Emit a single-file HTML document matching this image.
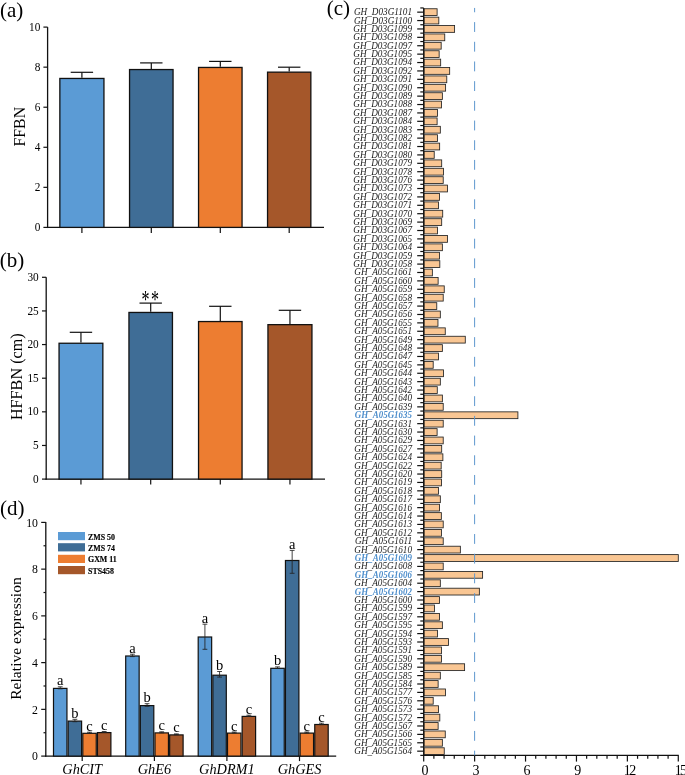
<!DOCTYPE html>
<html><head><meta charset="utf-8"><title>Figure</title>
<style>
html,body{margin:0;padding:0;background:#fff;}
body{width:685px;height:775px;overflow:hidden;}
svg{display:block;}
</style></head><body>
<svg width="685" height="775" viewBox="0 0 685 775">
<rect width="685" height="775" fill="#fff"/>
<g font-family="Liberation Serif, serif" fill="#000">
<text x="0.05" y="17.1" font-size="21" text-anchor="start" >(a)</text>
<line x1="47.6" y1="27.1" x2="47.6" y2="228.05" stroke="#111" stroke-width="1.3" />
<line x1="46.95" y1="227.4" x2="324" y2="227.4" stroke="#111" stroke-width="1.3" />
<line x1="43.4" y1="227.4" x2="47.6" y2="227.4" stroke="#111" stroke-width="1.2" />
<text transform="translate(40.4,231.06) scale(1,1.1)" font-size="11.3" text-anchor="end">0</text>
<line x1="43.4" y1="187.34" x2="47.6" y2="187.34" stroke="#111" stroke-width="1.2" />
<text transform="translate(40.4,191) scale(1,1.1)" font-size="11.3" text-anchor="end">2</text>
<line x1="43.4" y1="147.28" x2="47.6" y2="147.28" stroke="#111" stroke-width="1.2" />
<text transform="translate(40.4,150.94) scale(1,1.1)" font-size="11.3" text-anchor="end">4</text>
<line x1="43.4" y1="107.22" x2="47.6" y2="107.22" stroke="#111" stroke-width="1.2" />
<text transform="translate(40.4,110.88) scale(1,1.1)" font-size="11.3" text-anchor="end">6</text>
<line x1="43.4" y1="67.16" x2="47.6" y2="67.16" stroke="#111" stroke-width="1.2" />
<text transform="translate(40.4,70.82) scale(1,1.1)" font-size="11.3" text-anchor="end">8</text>
<line x1="43.4" y1="27.1" x2="47.6" y2="27.1" stroke="#111" stroke-width="1.2" />
<text transform="translate(40.4,30.76) scale(1,1.1)" font-size="11.3" text-anchor="end">10</text>
<rect x="59.85" y="78.45" width="44.1" height="148.95" fill="#5B9BD5" stroke="#111" stroke-width="1.3"/>
<line x1="81.9" y1="72.3" x2="81.9" y2="77.8" stroke="#111" stroke-width="1.2" />
<line x1="70.7" y1="72.3" x2="93.1" y2="72.3" stroke="#111" stroke-width="1.2" />
<line x1="81.9" y1="227.4" x2="81.9" y2="232.9" stroke="#111" stroke-width="1.2" />
<rect x="129.55" y="69.55" width="43.5" height="157.85" fill="#3F6D96" stroke="#111" stroke-width="1.3"/>
<line x1="151.3" y1="62.9" x2="151.3" y2="68.9" stroke="#111" stroke-width="1.2" />
<line x1="140.1" y1="62.9" x2="162.5" y2="62.9" stroke="#111" stroke-width="1.2" />
<line x1="151.3" y1="227.4" x2="151.3" y2="232.9" stroke="#111" stroke-width="1.2" />
<rect x="198.55" y="67.45" width="43.5" height="159.95" fill="#ED7D31" stroke="#111" stroke-width="1.3"/>
<line x1="220.3" y1="61.4" x2="220.3" y2="66.8" stroke="#111" stroke-width="1.2" />
<line x1="209.1" y1="61.4" x2="231.5" y2="61.4" stroke="#111" stroke-width="1.2" />
<line x1="220.3" y1="227.4" x2="220.3" y2="232.9" stroke="#111" stroke-width="1.2" />
<rect x="267.55" y="72.15" width="43.3" height="155.25" fill="#A5572A" stroke="#111" stroke-width="1.3"/>
<line x1="289.2" y1="67.2" x2="289.2" y2="71.5" stroke="#111" stroke-width="1.2" />
<line x1="278" y1="67.2" x2="300.4" y2="67.2" stroke="#111" stroke-width="1.2" />
<line x1="289.2" y1="227.4" x2="289.2" y2="232.9" stroke="#111" stroke-width="1.2" />
<text transform="translate(24.8,126.7) rotate(-90)" font-size="15.8" text-anchor="middle">FFBN</text>
<text x="-0.2" y="267.2" font-size="21" text-anchor="start" >(b)</text>
<line x1="46.2" y1="277.29" x2="46.2" y2="479.75" stroke="#111" stroke-width="1.3" />
<line x1="45.55" y1="479.1" x2="325" y2="479.1" stroke="#111" stroke-width="1.3" />
<line x1="42" y1="479.1" x2="46.2" y2="479.1" stroke="#111" stroke-width="1.2" />
<text transform="translate(38.7,482.76) scale(1,1.1)" font-size="11.3" text-anchor="end">0</text>
<line x1="42" y1="445.47" x2="46.2" y2="445.47" stroke="#111" stroke-width="1.2" />
<text transform="translate(38.7,449.13) scale(1,1.1)" font-size="11.3" text-anchor="end">5</text>
<line x1="42" y1="411.83" x2="46.2" y2="411.83" stroke="#111" stroke-width="1.2" />
<text transform="translate(38.7,415.49) scale(1,1.1)" font-size="11.3" text-anchor="end">10</text>
<line x1="42" y1="378.2" x2="46.2" y2="378.2" stroke="#111" stroke-width="1.2" />
<text transform="translate(38.7,381.86) scale(1,1.1)" font-size="11.3" text-anchor="end">15</text>
<line x1="42" y1="344.56" x2="46.2" y2="344.56" stroke="#111" stroke-width="1.2" />
<text transform="translate(38.7,348.22) scale(1,1.1)" font-size="11.3" text-anchor="end">20</text>
<line x1="42" y1="310.93" x2="46.2" y2="310.93" stroke="#111" stroke-width="1.2" />
<text transform="translate(38.7,314.59) scale(1,1.1)" font-size="11.3" text-anchor="end">25</text>
<line x1="42" y1="277.29" x2="46.2" y2="277.29" stroke="#111" stroke-width="1.2" />
<text transform="translate(38.7,280.95) scale(1,1.1)" font-size="11.3" text-anchor="end">30</text>
<rect x="59.05" y="343.25" width="43.8" height="135.85" fill="#5B9BD5" stroke="#111" stroke-width="1.3"/>
<line x1="80.95" y1="332.3" x2="80.95" y2="342.6" stroke="#111" stroke-width="1.2" />
<line x1="69.75" y1="332.3" x2="92.15" y2="332.3" stroke="#111" stroke-width="1.2" />
<line x1="80.95" y1="479.1" x2="80.95" y2="484.6" stroke="#111" stroke-width="1.2" />
<rect x="128.95" y="312.45" width="43.5" height="166.65" fill="#3F6D96" stroke="#111" stroke-width="1.3"/>
<line x1="150.7" y1="303.1" x2="150.7" y2="311.8" stroke="#111" stroke-width="1.2" />
<line x1="139.5" y1="303.1" x2="161.9" y2="303.1" stroke="#111" stroke-width="1.2" />
<line x1="150.7" y1="479.1" x2="150.7" y2="484.6" stroke="#111" stroke-width="1.2" />
<rect x="198.55" y="321.55" width="43.5" height="157.55" fill="#ED7D31" stroke="#111" stroke-width="1.3"/>
<line x1="220.3" y1="306.3" x2="220.3" y2="320.9" stroke="#111" stroke-width="1.2" />
<line x1="209.1" y1="306.3" x2="231.5" y2="306.3" stroke="#111" stroke-width="1.2" />
<line x1="220.3" y1="479.1" x2="220.3" y2="484.6" stroke="#111" stroke-width="1.2" />
<rect x="267.95" y="324.65" width="44" height="154.45" fill="#A5572A" stroke="#111" stroke-width="1.3"/>
<line x1="289.95" y1="310.3" x2="289.95" y2="324" stroke="#111" stroke-width="1.2" />
<line x1="278.75" y1="310.3" x2="301.15" y2="310.3" stroke="#111" stroke-width="1.2" />
<line x1="289.95" y1="479.1" x2="289.95" y2="484.6" stroke="#111" stroke-width="1.2" />
<text transform="translate(141.5,307.5) scale(1,1.61)" font-size="16" letter-spacing="1.6" font-family="Liberation Serif, serif">**</text>
<text transform="translate(22.2,376.7) rotate(-90)" font-size="16.2" text-anchor="middle">HFFBN (cm)</text>
<text x="0" y="514.9" font-size="21" text-anchor="start" >(d)</text>
<line x1="45.8" y1="522.1" x2="45.8" y2="756.75" stroke="#111" stroke-width="1.3" />
<line x1="45.15" y1="756.1" x2="336.2" y2="756.1" stroke="#111" stroke-width="1.3" />
<line x1="41.2" y1="756.1" x2="45.8" y2="756.1" stroke="#111" stroke-width="1.2" />
<text transform="translate(38,760.4) scale(1,1.1)" font-size="11.8" text-anchor="end">0</text>
<line x1="43.5" y1="732.73" x2="45.8" y2="732.73" stroke="#111" stroke-width="1.2" />
<line x1="41.2" y1="709.36" x2="45.8" y2="709.36" stroke="#111" stroke-width="1.2" />
<text transform="translate(38,713.66) scale(1,1.1)" font-size="11.8" text-anchor="end">2</text>
<line x1="43.5" y1="685.99" x2="45.8" y2="685.99" stroke="#111" stroke-width="1.2" />
<line x1="41.2" y1="662.62" x2="45.8" y2="662.62" stroke="#111" stroke-width="1.2" />
<text transform="translate(38,666.92) scale(1,1.1)" font-size="11.8" text-anchor="end">4</text>
<line x1="43.5" y1="639.25" x2="45.8" y2="639.25" stroke="#111" stroke-width="1.2" />
<line x1="41.2" y1="615.88" x2="45.8" y2="615.88" stroke="#111" stroke-width="1.2" />
<text transform="translate(38,620.18) scale(1,1.1)" font-size="11.8" text-anchor="end">6</text>
<line x1="43.5" y1="592.51" x2="45.8" y2="592.51" stroke="#111" stroke-width="1.2" />
<line x1="41.2" y1="569.14" x2="45.8" y2="569.14" stroke="#111" stroke-width="1.2" />
<text transform="translate(38,573.44) scale(1,1.1)" font-size="11.8" text-anchor="end">8</text>
<line x1="43.5" y1="545.77" x2="45.8" y2="545.77" stroke="#111" stroke-width="1.2" />
<line x1="41.2" y1="522.4" x2="45.8" y2="522.4" stroke="#111" stroke-width="1.2" />
<text transform="translate(38,526.7) scale(1,1.1)" font-size="11.8" text-anchor="end">10</text>
<rect x="53.5" y="688.4" width="13.45" height="67.7" fill="#5B9BD5" stroke="#111" stroke-width="1.2"/>
<rect x="68.15" y="721.1" width="13.45" height="35" fill="#3F6D96" stroke="#111" stroke-width="1.2"/>
<rect x="82.8" y="733.3" width="13.45" height="22.8" fill="#ED7D31" stroke="#111" stroke-width="1.2"/>
<rect x="97.45" y="732.6" width="13.45" height="23.5" fill="#A5572A" stroke="#111" stroke-width="1.2"/>
<line x1="60.23" y1="686.8" x2="60.23" y2="688.8" stroke="#222" stroke-width="0.85" />
<line x1="57.83" y1="686.8" x2="62.62" y2="686.8" stroke="#222" stroke-width="0.85" />
<line x1="57.83" y1="688.8" x2="62.62" y2="688.8" stroke="#222" stroke-width="0.85" />
<text x="60.23" y="685.3" font-size="14.5" text-anchor="middle" >a</text>
<line x1="74.88" y1="719.3" x2="74.88" y2="721.7" stroke="#222" stroke-width="0.85" />
<line x1="72.47" y1="719.3" x2="77.28" y2="719.3" stroke="#222" stroke-width="0.85" />
<line x1="72.47" y1="721.7" x2="77.28" y2="721.7" stroke="#222" stroke-width="0.85" />
<text x="74.88" y="717.8" font-size="14.5" text-anchor="middle" >b</text>
<line x1="89.53" y1="732.2" x2="89.53" y2="733.2" stroke="#222" stroke-width="0.85" />
<line x1="87.12" y1="732.2" x2="91.93" y2="732.2" stroke="#222" stroke-width="0.85" />
<line x1="87.12" y1="733.2" x2="91.93" y2="733.2" stroke="#222" stroke-width="0.85" />
<text x="89.53" y="730.7" font-size="14.5" text-anchor="middle" >c</text>
<line x1="104.17" y1="731.5" x2="104.17" y2="732.5" stroke="#222" stroke-width="0.85" />
<line x1="101.77" y1="731.5" x2="106.58" y2="731.5" stroke="#222" stroke-width="0.85" />
<line x1="101.77" y1="732.5" x2="106.58" y2="732.5" stroke="#222" stroke-width="0.85" />
<text x="104.17" y="730" font-size="14.5" text-anchor="middle" >c</text>
<line x1="82.2" y1="756.1" x2="82.2" y2="761.1" stroke="#111" stroke-width="1.2" />
<text x="82.2" y="774" font-size="14.3" text-anchor="middle" font-style="italic">GhCIT</text>
<rect x="125.7" y="656" width="13.45" height="100.1" fill="#5B9BD5" stroke="#111" stroke-width="1.2"/>
<rect x="140.35" y="705.6" width="13.45" height="50.5" fill="#3F6D96" stroke="#111" stroke-width="1.2"/>
<rect x="155" y="732.9" width="13.45" height="23.2" fill="#ED7D31" stroke="#111" stroke-width="1.2"/>
<rect x="169.65" y="734.9" width="13.45" height="21.2" fill="#A5572A" stroke="#111" stroke-width="1.2"/>
<line x1="132.42" y1="654.2" x2="132.42" y2="656.6" stroke="#222" stroke-width="0.85" />
<line x1="130.02" y1="654.2" x2="134.82" y2="654.2" stroke="#222" stroke-width="0.85" />
<line x1="130.02" y1="656.6" x2="134.82" y2="656.6" stroke="#222" stroke-width="0.85" />
<text x="132.42" y="652.7" font-size="14.5" text-anchor="middle" >a</text>
<line x1="147.07" y1="703.7" x2="147.07" y2="706.3" stroke="#222" stroke-width="0.85" />
<line x1="144.67" y1="703.7" x2="149.47" y2="703.7" stroke="#222" stroke-width="0.85" />
<line x1="144.67" y1="706.3" x2="149.47" y2="706.3" stroke="#222" stroke-width="0.85" />
<text x="147.07" y="702.2" font-size="14.5" text-anchor="middle" >b</text>
<line x1="161.72" y1="731.8" x2="161.72" y2="732.8" stroke="#222" stroke-width="0.85" />
<line x1="159.32" y1="731.8" x2="164.12" y2="731.8" stroke="#222" stroke-width="0.85" />
<line x1="159.32" y1="732.8" x2="164.12" y2="732.8" stroke="#222" stroke-width="0.85" />
<text x="161.72" y="730.3" font-size="14.5" text-anchor="middle" >c</text>
<line x1="176.38" y1="733.9" x2="176.38" y2="734.7" stroke="#222" stroke-width="0.85" />
<line x1="173.97" y1="733.9" x2="178.78" y2="733.9" stroke="#222" stroke-width="0.85" />
<line x1="173.97" y1="734.7" x2="178.78" y2="734.7" stroke="#222" stroke-width="0.85" />
<text x="176.38" y="732.4" font-size="14.5" text-anchor="middle" >c</text>
<line x1="154.4" y1="756.1" x2="154.4" y2="761.1" stroke="#111" stroke-width="1.2" />
<text x="154.4" y="774" font-size="14.3" text-anchor="middle" font-style="italic">GhE6</text>
<rect x="198.2" y="637" width="13.45" height="119.1" fill="#5B9BD5" stroke="#111" stroke-width="1.2"/>
<rect x="212.85" y="675.2" width="13.45" height="80.9" fill="#3F6D96" stroke="#111" stroke-width="1.2"/>
<rect x="227.5" y="733.1" width="13.45" height="23" fill="#ED7D31" stroke="#111" stroke-width="1.2"/>
<rect x="242.15" y="716.4" width="13.45" height="39.7" fill="#A5572A" stroke="#111" stroke-width="1.2"/>
<line x1="204.92" y1="624.2" x2="204.92" y2="649.3" stroke="#222" stroke-width="0.85" />
<line x1="202.52" y1="624.2" x2="207.32" y2="624.2" stroke="#222" stroke-width="0.85" />
<line x1="202.52" y1="649.3" x2="207.32" y2="649.3" stroke="#222" stroke-width="0.85" />
<text x="204.92" y="622.7" font-size="14.5" text-anchor="middle" >a</text>
<line x1="219.57" y1="671.5" x2="219.57" y2="677.1" stroke="#222" stroke-width="0.85" />
<line x1="217.17" y1="671.5" x2="221.97" y2="671.5" stroke="#222" stroke-width="0.85" />
<line x1="217.17" y1="677.1" x2="221.97" y2="677.1" stroke="#222" stroke-width="0.85" />
<text x="219.57" y="670" font-size="14.5" text-anchor="middle" >b</text>
<line x1="234.22" y1="732" x2="234.22" y2="733" stroke="#222" stroke-width="0.85" />
<line x1="231.82" y1="732" x2="236.62" y2="732" stroke="#222" stroke-width="0.85" />
<line x1="231.82" y1="733" x2="236.62" y2="733" stroke="#222" stroke-width="0.85" />
<text x="234.22" y="730.5" font-size="14.5" text-anchor="middle" >c</text>
<line x1="248.88" y1="715.2" x2="248.88" y2="716.4" stroke="#222" stroke-width="0.85" />
<line x1="246.47" y1="715.2" x2="251.28" y2="715.2" stroke="#222" stroke-width="0.85" />
<line x1="246.47" y1="716.4" x2="251.28" y2="716.4" stroke="#222" stroke-width="0.85" />
<text x="248.88" y="713.7" font-size="14.5" text-anchor="middle" >c</text>
<line x1="226.9" y1="756.1" x2="226.9" y2="761.1" stroke="#111" stroke-width="1.2" />
<text x="226.9" y="774" font-size="14.3" text-anchor="middle" font-style="italic">GhDRM1</text>
<rect x="270.8" y="668.3" width="13.45" height="87.8" fill="#5B9BD5" stroke="#111" stroke-width="1.2"/>
<rect x="285.45" y="560.5" width="13.45" height="195.6" fill="#3F6D96" stroke="#111" stroke-width="1.2"/>
<rect x="300.1" y="733.1" width="13.45" height="23" fill="#ED7D31" stroke="#111" stroke-width="1.2"/>
<rect x="314.75" y="724.5" width="13.45" height="31.6" fill="#A5572A" stroke="#111" stroke-width="1.2"/>
<line x1="277.52" y1="666.9" x2="277.52" y2="668.5" stroke="#222" stroke-width="0.85" />
<line x1="275.12" y1="666.9" x2="279.92" y2="666.9" stroke="#222" stroke-width="0.85" />
<line x1="275.12" y1="668.5" x2="279.92" y2="668.5" stroke="#222" stroke-width="0.85" />
<text x="277.52" y="665.4" font-size="14.5" text-anchor="middle" >b</text>
<line x1="292.17" y1="550.4" x2="292.17" y2="573.3" stroke="#222" stroke-width="0.85" />
<line x1="289.77" y1="550.4" x2="294.57" y2="550.4" stroke="#222" stroke-width="0.85" />
<line x1="289.77" y1="573.3" x2="294.57" y2="573.3" stroke="#222" stroke-width="0.85" />
<text x="292.17" y="548.9" font-size="14.5" text-anchor="middle" >a</text>
<line x1="306.82" y1="732" x2="306.82" y2="733" stroke="#222" stroke-width="0.85" />
<line x1="304.43" y1="732" x2="309.22" y2="732" stroke="#222" stroke-width="0.85" />
<line x1="304.43" y1="733" x2="309.22" y2="733" stroke="#222" stroke-width="0.85" />
<text x="306.82" y="730.5" font-size="14.5" text-anchor="middle" >c</text>
<line x1="321.47" y1="723.2" x2="321.47" y2="724.6" stroke="#222" stroke-width="0.85" />
<line x1="319.07" y1="723.2" x2="323.87" y2="723.2" stroke="#222" stroke-width="0.85" />
<line x1="319.07" y1="724.6" x2="323.87" y2="724.6" stroke="#222" stroke-width="0.85" />
<text x="321.47" y="721.7" font-size="14.5" text-anchor="middle" >c</text>
<line x1="299.5" y1="756.1" x2="299.5" y2="761.1" stroke="#111" stroke-width="1.2" />
<text x="299.5" y="774" font-size="14.3" text-anchor="middle" font-style="italic">GhGES</text>
<text transform="translate(21.2,638.5) rotate(-90)" font-size="15.6" text-anchor="middle">Relative expression</text>
<rect x="58" y="532" width="27" height="8.2" fill="#5B9BD5"/>
<text x="88" y="539.6" font-size="7.9" text-anchor="start" font-weight="bold" stroke="#000" stroke-width="0.15">ZMS 50</text>
<rect x="58" y="543.2" width="27" height="8.2" fill="#3F6D96"/>
<text x="88" y="550.8" font-size="7.9" text-anchor="start" font-weight="bold" stroke="#000" stroke-width="0.15">ZMS 74</text>
<rect x="58" y="554.8" width="27" height="8.2" fill="#ED7D31"/>
<text x="88" y="562.4" font-size="7.9" text-anchor="start" font-weight="bold" stroke="#000" stroke-width="0.15">GXM 11</text>
<rect x="58" y="566" width="27" height="8.2" fill="#A5572A"/>
<text x="88" y="573.6" font-size="7.9" text-anchor="start" font-weight="bold" stroke="#000" stroke-width="0.15">STS458</text>
</g>
<g font-family="Liberation Serif, serif" fill="#000">
<text x="326.8" y="15" font-size="21" text-anchor="start" >(c)</text>
<rect x="424" y="8.75" width="13.11" height="6.8" fill="#F9C693" stroke="#222" stroke-width="0.85"/>
<rect x="424" y="17.15" width="14.81" height="6.8" fill="#F9C693" stroke="#222" stroke-width="0.85"/>
<rect x="424" y="25.55" width="30.59" height="6.8" fill="#F9C693" stroke="#222" stroke-width="0.85"/>
<rect x="424" y="33.94" width="20.75" height="6.8" fill="#F9C693" stroke="#222" stroke-width="0.85"/>
<rect x="424" y="42.34" width="17.18" height="6.8" fill="#F9C693" stroke="#222" stroke-width="0.85"/>
<rect x="424" y="50.74" width="15.15" height="6.8" fill="#F9C693" stroke="#222" stroke-width="0.85"/>
<rect x="424" y="59.14" width="16.67" height="6.8" fill="#F9C693" stroke="#222" stroke-width="0.85"/>
<rect x="424" y="67.54" width="25.67" height="6.8" fill="#F9C693" stroke="#222" stroke-width="0.85"/>
<rect x="424" y="75.93" width="22.78" height="6.8" fill="#F9C693" stroke="#222" stroke-width="0.85"/>
<rect x="424" y="84.33" width="21.6" height="6.8" fill="#F9C693" stroke="#222" stroke-width="0.85"/>
<rect x="424" y="92.73" width="18.37" height="6.8" fill="#F9C693" stroke="#222" stroke-width="0.85"/>
<rect x="424" y="101.13" width="17.52" height="6.8" fill="#F9C693" stroke="#222" stroke-width="0.85"/>
<rect x="424" y="109.53" width="13.45" height="6.8" fill="#F9C693" stroke="#222" stroke-width="0.85"/>
<rect x="424" y="117.92" width="13.11" height="6.8" fill="#F9C693" stroke="#222" stroke-width="0.85"/>
<rect x="424" y="126.32" width="16.33" height="6.8" fill="#F9C693" stroke="#222" stroke-width="0.85"/>
<rect x="424" y="134.72" width="13.45" height="6.8" fill="#F9C693" stroke="#222" stroke-width="0.85"/>
<rect x="424" y="143.12" width="15.65" height="6.8" fill="#F9C693" stroke="#222" stroke-width="0.85"/>
<rect x="424" y="151.52" width="10.22" height="6.8" fill="#F9C693" stroke="#222" stroke-width="0.85"/>
<rect x="424" y="159.91" width="17.69" height="6.8" fill="#F9C693" stroke="#222" stroke-width="0.85"/>
<rect x="424" y="168.31" width="19.56" height="6.8" fill="#F9C693" stroke="#222" stroke-width="0.85"/>
<rect x="424" y="176.71" width="19.22" height="6.8" fill="#F9C693" stroke="#222" stroke-width="0.85"/>
<rect x="424" y="185.11" width="23.46" height="6.8" fill="#F9C693" stroke="#222" stroke-width="0.85"/>
<rect x="424" y="193.51" width="15.48" height="6.8" fill="#F9C693" stroke="#222" stroke-width="0.85"/>
<rect x="424" y="201.9" width="14.47" height="6.8" fill="#F9C693" stroke="#222" stroke-width="0.85"/>
<rect x="424" y="210.3" width="18.71" height="6.8" fill="#F9C693" stroke="#222" stroke-width="0.85"/>
<rect x="424" y="218.7" width="17.69" height="6.8" fill="#F9C693" stroke="#222" stroke-width="0.85"/>
<rect x="424" y="227.1" width="13.45" height="6.8" fill="#F9C693" stroke="#222" stroke-width="0.85"/>
<rect x="424" y="235.5" width="23.46" height="6.8" fill="#F9C693" stroke="#222" stroke-width="0.85"/>
<rect x="424" y="243.89" width="18.37" height="6.8" fill="#F9C693" stroke="#222" stroke-width="0.85"/>
<rect x="424" y="252.29" width="15.48" height="6.8" fill="#F9C693" stroke="#222" stroke-width="0.85"/>
<rect x="424" y="260.69" width="15.82" height="6.8" fill="#F9C693" stroke="#222" stroke-width="0.85"/>
<rect x="424" y="269.09" width="8.36" height="6.8" fill="#F9C693" stroke="#222" stroke-width="0.85"/>
<rect x="424" y="277.49" width="14.13" height="6.8" fill="#F9C693" stroke="#222" stroke-width="0.85"/>
<rect x="424" y="285.88" width="20.24" height="6.8" fill="#F9C693" stroke="#222" stroke-width="0.85"/>
<rect x="424" y="294.28" width="19.22" height="6.8" fill="#F9C693" stroke="#222" stroke-width="0.85"/>
<rect x="424" y="302.68" width="12.77" height="6.8" fill="#F9C693" stroke="#222" stroke-width="0.85"/>
<rect x="424" y="311.08" width="16.33" height="6.8" fill="#F9C693" stroke="#222" stroke-width="0.85"/>
<rect x="424" y="319.48" width="13.96" height="6.8" fill="#F9C693" stroke="#222" stroke-width="0.85"/>
<rect x="424" y="327.87" width="21.26" height="6.8" fill="#F9C693" stroke="#222" stroke-width="0.85"/>
<rect x="424" y="336.27" width="41.28" height="6.8" fill="#F9C693" stroke="#222" stroke-width="0.85"/>
<rect x="424" y="344.67" width="18.37" height="6.8" fill="#F9C693" stroke="#222" stroke-width="0.85"/>
<rect x="424" y="353.07" width="14.47" height="6.8" fill="#F9C693" stroke="#222" stroke-width="0.85"/>
<rect x="424" y="361.47" width="9.2" height="6.8" fill="#F9C693" stroke="#222" stroke-width="0.85"/>
<rect x="424" y="369.86" width="19.56" height="6.8" fill="#F9C693" stroke="#222" stroke-width="0.85"/>
<rect x="424" y="378.26" width="16.33" height="6.8" fill="#F9C693" stroke="#222" stroke-width="0.85"/>
<rect x="424" y="386.66" width="13.28" height="6.8" fill="#F9C693" stroke="#222" stroke-width="0.85"/>
<rect x="424" y="395.06" width="18.37" height="6.8" fill="#F9C693" stroke="#222" stroke-width="0.85"/>
<rect x="424" y="403.46" width="19.22" height="6.8" fill="#F9C693" stroke="#222" stroke-width="0.85"/>
<rect x="424" y="411.85" width="93.9" height="6.8" fill="#F9C693" stroke="#222" stroke-width="0.85"/>
<rect x="424" y="420.25" width="19.22" height="6.8" fill="#F9C693" stroke="#222" stroke-width="0.85"/>
<rect x="424" y="428.65" width="13.11" height="6.8" fill="#F9C693" stroke="#222" stroke-width="0.85"/>
<rect x="424" y="437.05" width="19.22" height="6.8" fill="#F9C693" stroke="#222" stroke-width="0.85"/>
<rect x="424" y="445.45" width="17.69" height="6.8" fill="#F9C693" stroke="#222" stroke-width="0.85"/>
<rect x="424" y="453.84" width="18.88" height="6.8" fill="#F9C693" stroke="#222" stroke-width="0.85"/>
<rect x="424" y="462.24" width="17.18" height="6.8" fill="#F9C693" stroke="#222" stroke-width="0.85"/>
<rect x="424" y="470.64" width="17.69" height="6.8" fill="#F9C693" stroke="#222" stroke-width="0.85"/>
<rect x="424" y="479.04" width="17.52" height="6.8" fill="#F9C693" stroke="#222" stroke-width="0.85"/>
<rect x="424" y="487.44" width="14.47" height="6.8" fill="#F9C693" stroke="#222" stroke-width="0.85"/>
<rect x="424" y="495.83" width="16.33" height="6.8" fill="#F9C693" stroke="#222" stroke-width="0.85"/>
<rect x="424" y="504.23" width="15.48" height="6.8" fill="#F9C693" stroke="#222" stroke-width="0.85"/>
<rect x="424" y="512.63" width="17.35" height="6.8" fill="#F9C693" stroke="#222" stroke-width="0.85"/>
<rect x="424" y="521.03" width="19.22" height="6.8" fill="#F9C693" stroke="#222" stroke-width="0.85"/>
<rect x="424" y="529.43" width="17.52" height="6.8" fill="#F9C693" stroke="#222" stroke-width="0.85"/>
<rect x="424" y="537.82" width="19.22" height="6.8" fill="#F9C693" stroke="#222" stroke-width="0.85"/>
<rect x="424" y="546.22" width="36.36" height="6.8" fill="#F9C693" stroke="#222" stroke-width="0.85"/>
<rect x="424" y="554.62" width="254.29" height="6.8" fill="#F9C693" stroke="#222" stroke-width="0.85"/>
<rect x="424" y="563.02" width="19.22" height="6.8" fill="#F9C693" stroke="#222" stroke-width="0.85"/>
<rect x="424" y="571.42" width="58.6" height="6.8" fill="#F9C693" stroke="#222" stroke-width="0.85"/>
<rect x="424" y="579.81" width="16.33" height="6.8" fill="#F9C693" stroke="#222" stroke-width="0.85"/>
<rect x="424" y="588.21" width="55.37" height="6.8" fill="#F9C693" stroke="#222" stroke-width="0.85"/>
<rect x="424" y="596.61" width="15.48" height="6.8" fill="#F9C693" stroke="#222" stroke-width="0.85"/>
<rect x="424" y="605.01" width="10.56" height="6.8" fill="#F9C693" stroke="#222" stroke-width="0.85"/>
<rect x="424" y="613.41" width="15.48" height="6.8" fill="#F9C693" stroke="#222" stroke-width="0.85"/>
<rect x="424" y="621.8" width="18.37" height="6.8" fill="#F9C693" stroke="#222" stroke-width="0.85"/>
<rect x="424" y="630.2" width="13.45" height="6.8" fill="#F9C693" stroke="#222" stroke-width="0.85"/>
<rect x="424" y="638.6" width="24.48" height="6.8" fill="#F9C693" stroke="#222" stroke-width="0.85"/>
<rect x="424" y="647" width="17.52" height="6.8" fill="#F9C693" stroke="#222" stroke-width="0.85"/>
<rect x="424" y="655.4" width="17.52" height="6.8" fill="#F9C693" stroke="#222" stroke-width="0.85"/>
<rect x="424" y="663.79" width="40.6" height="6.8" fill="#F9C693" stroke="#222" stroke-width="0.85"/>
<rect x="424" y="672.19" width="16.33" height="6.8" fill="#F9C693" stroke="#222" stroke-width="0.85"/>
<rect x="424" y="680.59" width="14.13" height="6.8" fill="#F9C693" stroke="#222" stroke-width="0.85"/>
<rect x="424" y="688.99" width="21.43" height="6.8" fill="#F9C693" stroke="#222" stroke-width="0.85"/>
<rect x="424" y="697.39" width="9.2" height="6.8" fill="#F9C693" stroke="#222" stroke-width="0.85"/>
<rect x="424" y="705.78" width="14.47" height="6.8" fill="#F9C693" stroke="#222" stroke-width="0.85"/>
<rect x="424" y="714.18" width="15.82" height="6.8" fill="#F9C693" stroke="#222" stroke-width="0.85"/>
<rect x="424" y="722.58" width="14.13" height="6.8" fill="#F9C693" stroke="#222" stroke-width="0.85"/>
<rect x="424" y="730.98" width="21.26" height="6.8" fill="#F9C693" stroke="#222" stroke-width="0.85"/>
<rect x="424" y="739.38" width="18.37" height="6.8" fill="#F9C693" stroke="#222" stroke-width="0.85"/>
<rect x="424" y="747.77" width="20.24" height="6.8" fill="#F9C693" stroke="#222" stroke-width="0.85"/>
<text transform="translate(412,15.1) scale(1,1.06)" text-anchor="end" font-style="italic" fill="#1a1a1a" font-size="9.2">GH<tspan dy="-0.3">_</tspan><tspan dy="0.3">D03G1101</tspan></text>
<line x1="417.2" y1="12.15" x2="423.7" y2="12.15" stroke="#111" stroke-width="1.2" />
<text transform="translate(412,23.5) scale(1,1.06)" text-anchor="end" font-style="italic" fill="#1a1a1a" font-size="9.2">GH<tspan dy="-0.3">_</tspan><tspan dy="0.3">D03G1100</tspan></text>
<line x1="417.2" y1="20.55" x2="423.7" y2="20.55" stroke="#111" stroke-width="1.2" />
<text transform="translate(412,31.9) scale(1,1.06)" text-anchor="end" font-style="italic" fill="#1a1a1a" font-size="9.2">GH<tspan dy="-0.3">_</tspan><tspan dy="0.3">D03G1099</tspan></text>
<line x1="417.2" y1="28.95" x2="423.7" y2="28.95" stroke="#111" stroke-width="1.2" />
<text transform="translate(412,40.29) scale(1,1.06)" text-anchor="end" font-style="italic" fill="#1a1a1a" font-size="9.2">GH<tspan dy="-0.3">_</tspan><tspan dy="0.3">D03G1098</tspan></text>
<line x1="417.2" y1="37.34" x2="423.7" y2="37.34" stroke="#111" stroke-width="1.2" />
<text transform="translate(412,48.69) scale(1,1.06)" text-anchor="end" font-style="italic" fill="#1a1a1a" font-size="9.2">GH<tspan dy="-0.3">_</tspan><tspan dy="0.3">D03G1097</tspan></text>
<line x1="417.2" y1="45.74" x2="423.7" y2="45.74" stroke="#111" stroke-width="1.2" />
<text transform="translate(412,57.09) scale(1,1.06)" text-anchor="end" font-style="italic" fill="#1a1a1a" font-size="9.2">GH<tspan dy="-0.3">_</tspan><tspan dy="0.3">D03G1095</tspan></text>
<line x1="417.2" y1="54.14" x2="423.7" y2="54.14" stroke="#111" stroke-width="1.2" />
<text transform="translate(412,65.49) scale(1,1.06)" text-anchor="end" font-style="italic" fill="#1a1a1a" font-size="9.2">GH<tspan dy="-0.3">_</tspan><tspan dy="0.3">D03G1094</tspan></text>
<line x1="417.2" y1="62.54" x2="423.7" y2="62.54" stroke="#111" stroke-width="1.2" />
<text transform="translate(412,73.89) scale(1,1.06)" text-anchor="end" font-style="italic" fill="#1a1a1a" font-size="9.2">GH<tspan dy="-0.3">_</tspan><tspan dy="0.3">D03G1092</tspan></text>
<line x1="417.2" y1="70.94" x2="423.7" y2="70.94" stroke="#111" stroke-width="1.2" />
<text transform="translate(412,82.28) scale(1,1.06)" text-anchor="end" font-style="italic" fill="#1a1a1a" font-size="9.2">GH<tspan dy="-0.3">_</tspan><tspan dy="0.3">D03G1091</tspan></text>
<line x1="417.2" y1="79.33" x2="423.7" y2="79.33" stroke="#111" stroke-width="1.2" />
<text transform="translate(412,90.68) scale(1,1.06)" text-anchor="end" font-style="italic" fill="#1a1a1a" font-size="9.2">GH<tspan dy="-0.3">_</tspan><tspan dy="0.3">D03G1090</tspan></text>
<line x1="417.2" y1="87.73" x2="423.7" y2="87.73" stroke="#111" stroke-width="1.2" />
<text transform="translate(412,99.08) scale(1,1.06)" text-anchor="end" font-style="italic" fill="#1a1a1a" font-size="9.2">GH<tspan dy="-0.3">_</tspan><tspan dy="0.3">D03G1089</tspan></text>
<line x1="417.2" y1="96.13" x2="423.7" y2="96.13" stroke="#111" stroke-width="1.2" />
<text transform="translate(412,107.48) scale(1,1.06)" text-anchor="end" font-style="italic" fill="#1a1a1a" font-size="9.2">GH<tspan dy="-0.3">_</tspan><tspan dy="0.3">D03G1088</tspan></text>
<line x1="417.2" y1="104.53" x2="423.7" y2="104.53" stroke="#111" stroke-width="1.2" />
<text transform="translate(412,115.88) scale(1,1.06)" text-anchor="end" font-style="italic" fill="#1a1a1a" font-size="9.2">GH<tspan dy="-0.3">_</tspan><tspan dy="0.3">D03G1087</tspan></text>
<line x1="417.2" y1="112.93" x2="423.7" y2="112.93" stroke="#111" stroke-width="1.2" />
<text transform="translate(412,124.27) scale(1,1.06)" text-anchor="end" font-style="italic" fill="#1a1a1a" font-size="9.2">GH<tspan dy="-0.3">_</tspan><tspan dy="0.3">D03G1084</tspan></text>
<line x1="417.2" y1="121.32" x2="423.7" y2="121.32" stroke="#111" stroke-width="1.2" />
<text transform="translate(412,132.67) scale(1,1.06)" text-anchor="end" font-style="italic" fill="#1a1a1a" font-size="9.2">GH<tspan dy="-0.3">_</tspan><tspan dy="0.3">D03G1083</tspan></text>
<line x1="417.2" y1="129.72" x2="423.7" y2="129.72" stroke="#111" stroke-width="1.2" />
<text transform="translate(412,141.07) scale(1,1.06)" text-anchor="end" font-style="italic" fill="#1a1a1a" font-size="9.2">GH<tspan dy="-0.3">_</tspan><tspan dy="0.3">D03G1082</tspan></text>
<line x1="417.2" y1="138.12" x2="423.7" y2="138.12" stroke="#111" stroke-width="1.2" />
<text transform="translate(412,149.47) scale(1,1.06)" text-anchor="end" font-style="italic" fill="#1a1a1a" font-size="9.2">GH<tspan dy="-0.3">_</tspan><tspan dy="0.3">D03G1081</tspan></text>
<line x1="417.2" y1="146.52" x2="423.7" y2="146.52" stroke="#111" stroke-width="1.2" />
<text transform="translate(412,157.87) scale(1,1.06)" text-anchor="end" font-style="italic" fill="#1a1a1a" font-size="9.2">GH<tspan dy="-0.3">_</tspan><tspan dy="0.3">D03G1080</tspan></text>
<line x1="417.2" y1="154.92" x2="423.7" y2="154.92" stroke="#111" stroke-width="1.2" />
<text transform="translate(412,166.26) scale(1,1.06)" text-anchor="end" font-style="italic" fill="#1a1a1a" font-size="9.2">GH<tspan dy="-0.3">_</tspan><tspan dy="0.3">D03G1079</tspan></text>
<line x1="417.2" y1="163.31" x2="423.7" y2="163.31" stroke="#111" stroke-width="1.2" />
<text transform="translate(412,174.66) scale(1,1.06)" text-anchor="end" font-style="italic" fill="#1a1a1a" font-size="9.2">GH<tspan dy="-0.3">_</tspan><tspan dy="0.3">D03G1078</tspan></text>
<line x1="417.2" y1="171.71" x2="423.7" y2="171.71" stroke="#111" stroke-width="1.2" />
<text transform="translate(412,183.06) scale(1,1.06)" text-anchor="end" font-style="italic" fill="#1a1a1a" font-size="9.2">GH<tspan dy="-0.3">_</tspan><tspan dy="0.3">D03G1076</tspan></text>
<line x1="417.2" y1="180.11" x2="423.7" y2="180.11" stroke="#111" stroke-width="1.2" />
<text transform="translate(412,191.46) scale(1,1.06)" text-anchor="end" font-style="italic" fill="#1a1a1a" font-size="9.2">GH<tspan dy="-0.3">_</tspan><tspan dy="0.3">D03G1073</tspan></text>
<line x1="417.2" y1="188.51" x2="423.7" y2="188.51" stroke="#111" stroke-width="1.2" />
<text transform="translate(412,199.86) scale(1,1.06)" text-anchor="end" font-style="italic" fill="#1a1a1a" font-size="9.2">GH<tspan dy="-0.3">_</tspan><tspan dy="0.3">D03G1072</tspan></text>
<line x1="417.2" y1="196.91" x2="423.7" y2="196.91" stroke="#111" stroke-width="1.2" />
<text transform="translate(412,208.25) scale(1,1.06)" text-anchor="end" font-style="italic" fill="#1a1a1a" font-size="9.2">GH<tspan dy="-0.3">_</tspan><tspan dy="0.3">D03G1071</tspan></text>
<line x1="417.2" y1="205.3" x2="423.7" y2="205.3" stroke="#111" stroke-width="1.2" />
<text transform="translate(412,216.65) scale(1,1.06)" text-anchor="end" font-style="italic" fill="#1a1a1a" font-size="9.2">GH<tspan dy="-0.3">_</tspan><tspan dy="0.3">D03G1070</tspan></text>
<line x1="417.2" y1="213.7" x2="423.7" y2="213.7" stroke="#111" stroke-width="1.2" />
<text transform="translate(412,225.05) scale(1,1.06)" text-anchor="end" font-style="italic" fill="#1a1a1a" font-size="9.2">GH<tspan dy="-0.3">_</tspan><tspan dy="0.3">D03G1069</tspan></text>
<line x1="417.2" y1="222.1" x2="423.7" y2="222.1" stroke="#111" stroke-width="1.2" />
<text transform="translate(412,233.45) scale(1,1.06)" text-anchor="end" font-style="italic" fill="#1a1a1a" font-size="9.2">GH<tspan dy="-0.3">_</tspan><tspan dy="0.3">D03G1067</tspan></text>
<line x1="417.2" y1="230.5" x2="423.7" y2="230.5" stroke="#111" stroke-width="1.2" />
<text transform="translate(412,241.85) scale(1,1.06)" text-anchor="end" font-style="italic" fill="#1a1a1a" font-size="9.2">GH<tspan dy="-0.3">_</tspan><tspan dy="0.3">D03G1065</tspan></text>
<line x1="417.2" y1="238.9" x2="423.7" y2="238.9" stroke="#111" stroke-width="1.2" />
<text transform="translate(412,250.24) scale(1,1.06)" text-anchor="end" font-style="italic" fill="#1a1a1a" font-size="9.2">GH<tspan dy="-0.3">_</tspan><tspan dy="0.3">D03G1064</tspan></text>
<line x1="417.2" y1="247.29" x2="423.7" y2="247.29" stroke="#111" stroke-width="1.2" />
<text transform="translate(412,258.64) scale(1,1.06)" text-anchor="end" font-style="italic" fill="#1a1a1a" font-size="9.2">GH<tspan dy="-0.3">_</tspan><tspan dy="0.3">D03G1059</tspan></text>
<line x1="417.2" y1="255.69" x2="423.7" y2="255.69" stroke="#111" stroke-width="1.2" />
<text transform="translate(412,267.04) scale(1,1.06)" text-anchor="end" font-style="italic" fill="#1a1a1a" font-size="9.2">GH<tspan dy="-0.3">_</tspan><tspan dy="0.3">D03G1058</tspan></text>
<line x1="417.2" y1="264.09" x2="423.7" y2="264.09" stroke="#111" stroke-width="1.2" />
<text transform="translate(412,275.44) scale(1,1.06)" text-anchor="end" font-style="italic" fill="#1a1a1a" font-size="9.2">GH<tspan dy="-0.3">_</tspan><tspan dy="0.3">A05G1661</tspan></text>
<line x1="417.2" y1="272.49" x2="423.7" y2="272.49" stroke="#111" stroke-width="1.2" />
<text transform="translate(412,283.84) scale(1,1.06)" text-anchor="end" font-style="italic" fill="#1a1a1a" font-size="9.2">GH<tspan dy="-0.3">_</tspan><tspan dy="0.3">A05G1660</tspan></text>
<line x1="417.2" y1="280.89" x2="423.7" y2="280.89" stroke="#111" stroke-width="1.2" />
<text transform="translate(412,292.23) scale(1,1.06)" text-anchor="end" font-style="italic" fill="#1a1a1a" font-size="9.2">GH<tspan dy="-0.3">_</tspan><tspan dy="0.3">A05G1659</tspan></text>
<line x1="417.2" y1="289.28" x2="423.7" y2="289.28" stroke="#111" stroke-width="1.2" />
<text transform="translate(412,300.63) scale(1,1.06)" text-anchor="end" font-style="italic" fill="#1a1a1a" font-size="9.2">GH<tspan dy="-0.3">_</tspan><tspan dy="0.3">A05G1658</tspan></text>
<line x1="417.2" y1="297.68" x2="423.7" y2="297.68" stroke="#111" stroke-width="1.2" />
<text transform="translate(412,309.03) scale(1,1.06)" text-anchor="end" font-style="italic" fill="#1a1a1a" font-size="9.2">GH<tspan dy="-0.3">_</tspan><tspan dy="0.3">A05G1657</tspan></text>
<line x1="417.2" y1="306.08" x2="423.7" y2="306.08" stroke="#111" stroke-width="1.2" />
<text transform="translate(412,317.43) scale(1,1.06)" text-anchor="end" font-style="italic" fill="#1a1a1a" font-size="9.2">GH<tspan dy="-0.3">_</tspan><tspan dy="0.3">A05G1656</tspan></text>
<line x1="417.2" y1="314.48" x2="423.7" y2="314.48" stroke="#111" stroke-width="1.2" />
<text transform="translate(412,325.83) scale(1,1.06)" text-anchor="end" font-style="italic" fill="#1a1a1a" font-size="9.2">GH<tspan dy="-0.3">_</tspan><tspan dy="0.3">A05G1655</tspan></text>
<line x1="417.2" y1="322.88" x2="423.7" y2="322.88" stroke="#111" stroke-width="1.2" />
<text transform="translate(412,334.22) scale(1,1.06)" text-anchor="end" font-style="italic" fill="#1a1a1a" font-size="9.2">GH<tspan dy="-0.3">_</tspan><tspan dy="0.3">A05G1651</tspan></text>
<line x1="417.2" y1="331.27" x2="423.7" y2="331.27" stroke="#111" stroke-width="1.2" />
<text transform="translate(412,342.62) scale(1,1.06)" text-anchor="end" font-style="italic" fill="#1a1a1a" font-size="9.2">GH<tspan dy="-0.3">_</tspan><tspan dy="0.3">A05G1649</tspan></text>
<line x1="417.2" y1="339.67" x2="423.7" y2="339.67" stroke="#111" stroke-width="1.2" />
<text transform="translate(412,351.02) scale(1,1.06)" text-anchor="end" font-style="italic" fill="#1a1a1a" font-size="9.2">GH<tspan dy="-0.3">_</tspan><tspan dy="0.3">A05G1648</tspan></text>
<line x1="417.2" y1="348.07" x2="423.7" y2="348.07" stroke="#111" stroke-width="1.2" />
<text transform="translate(412,359.42) scale(1,1.06)" text-anchor="end" font-style="italic" fill="#1a1a1a" font-size="9.2">GH<tspan dy="-0.3">_</tspan><tspan dy="0.3">A05G1647</tspan></text>
<line x1="417.2" y1="356.47" x2="423.7" y2="356.47" stroke="#111" stroke-width="1.2" />
<text transform="translate(412,367.82) scale(1,1.06)" text-anchor="end" font-style="italic" fill="#1a1a1a" font-size="9.2">GH<tspan dy="-0.3">_</tspan><tspan dy="0.3">A05G1645</tspan></text>
<line x1="417.2" y1="364.87" x2="423.7" y2="364.87" stroke="#111" stroke-width="1.2" />
<text transform="translate(412,376.21) scale(1,1.06)" text-anchor="end" font-style="italic" fill="#1a1a1a" font-size="9.2">GH<tspan dy="-0.3">_</tspan><tspan dy="0.3">A05G1644</tspan></text>
<line x1="417.2" y1="373.26" x2="423.7" y2="373.26" stroke="#111" stroke-width="1.2" />
<text transform="translate(412,384.61) scale(1,1.06)" text-anchor="end" font-style="italic" fill="#1a1a1a" font-size="9.2">GH<tspan dy="-0.3">_</tspan><tspan dy="0.3">A05G1643</tspan></text>
<line x1="417.2" y1="381.66" x2="423.7" y2="381.66" stroke="#111" stroke-width="1.2" />
<text transform="translate(412,393.01) scale(1,1.06)" text-anchor="end" font-style="italic" fill="#1a1a1a" font-size="9.2">GH<tspan dy="-0.3">_</tspan><tspan dy="0.3">A05G1642</tspan></text>
<line x1="417.2" y1="390.06" x2="423.7" y2="390.06" stroke="#111" stroke-width="1.2" />
<text transform="translate(412,401.41) scale(1,1.06)" text-anchor="end" font-style="italic" fill="#1a1a1a" font-size="9.2">GH<tspan dy="-0.3">_</tspan><tspan dy="0.3">A05G1640</tspan></text>
<line x1="417.2" y1="398.46" x2="423.7" y2="398.46" stroke="#111" stroke-width="1.2" />
<text transform="translate(412,409.81) scale(1,1.06)" text-anchor="end" font-style="italic" fill="#1a1a1a" font-size="9.2">GH<tspan dy="-0.3">_</tspan><tspan dy="0.3">A05G1639</tspan></text>
<line x1="417.2" y1="406.86" x2="423.7" y2="406.86" stroke="#111" stroke-width="1.2" />
<text transform="translate(412,418.2) scale(1,1.06)" text-anchor="end" font-style="italic" font-weight="bold" fill="#4F8FCC" font-size="8.95">GH<tspan dy="-0.3">_</tspan><tspan dy="0.3">A05G1635</tspan></text>
<line x1="417.2" y1="415.25" x2="423.7" y2="415.25" stroke="#111" stroke-width="1.2" />
<text transform="translate(412,426.6) scale(1,1.06)" text-anchor="end" font-style="italic" fill="#1a1a1a" font-size="9.2">GH<tspan dy="-0.3">_</tspan><tspan dy="0.3">A05G1631</tspan></text>
<line x1="417.2" y1="423.65" x2="423.7" y2="423.65" stroke="#111" stroke-width="1.2" />
<text transform="translate(412,435) scale(1,1.06)" text-anchor="end" font-style="italic" fill="#1a1a1a" font-size="9.2">GH<tspan dy="-0.3">_</tspan><tspan dy="0.3">A05G1630</tspan></text>
<line x1="417.2" y1="432.05" x2="423.7" y2="432.05" stroke="#111" stroke-width="1.2" />
<text transform="translate(412,443.4) scale(1,1.06)" text-anchor="end" font-style="italic" fill="#1a1a1a" font-size="9.2">GH<tspan dy="-0.3">_</tspan><tspan dy="0.3">A05G1629</tspan></text>
<line x1="417.2" y1="440.45" x2="423.7" y2="440.45" stroke="#111" stroke-width="1.2" />
<text transform="translate(412,451.8) scale(1,1.06)" text-anchor="end" font-style="italic" fill="#1a1a1a" font-size="9.2">GH<tspan dy="-0.3">_</tspan><tspan dy="0.3">A05G1627</tspan></text>
<line x1="417.2" y1="448.85" x2="423.7" y2="448.85" stroke="#111" stroke-width="1.2" />
<text transform="translate(412,460.19) scale(1,1.06)" text-anchor="end" font-style="italic" fill="#1a1a1a" font-size="9.2">GH<tspan dy="-0.3">_</tspan><tspan dy="0.3">A05G1624</tspan></text>
<line x1="417.2" y1="457.24" x2="423.7" y2="457.24" stroke="#111" stroke-width="1.2" />
<text transform="translate(412,468.59) scale(1,1.06)" text-anchor="end" font-style="italic" fill="#1a1a1a" font-size="9.2">GH<tspan dy="-0.3">_</tspan><tspan dy="0.3">A05G1622</tspan></text>
<line x1="417.2" y1="465.64" x2="423.7" y2="465.64" stroke="#111" stroke-width="1.2" />
<text transform="translate(412,476.99) scale(1,1.06)" text-anchor="end" font-style="italic" fill="#1a1a1a" font-size="9.2">GH<tspan dy="-0.3">_</tspan><tspan dy="0.3">A05G1620</tspan></text>
<line x1="417.2" y1="474.04" x2="423.7" y2="474.04" stroke="#111" stroke-width="1.2" />
<text transform="translate(412,485.39) scale(1,1.06)" text-anchor="end" font-style="italic" fill="#1a1a1a" font-size="9.2">GH<tspan dy="-0.3">_</tspan><tspan dy="0.3">A05G1619</tspan></text>
<line x1="417.2" y1="482.44" x2="423.7" y2="482.44" stroke="#111" stroke-width="1.2" />
<text transform="translate(412,493.79) scale(1,1.06)" text-anchor="end" font-style="italic" fill="#1a1a1a" font-size="9.2">GH<tspan dy="-0.3">_</tspan><tspan dy="0.3">A05G1618</tspan></text>
<line x1="417.2" y1="490.84" x2="423.7" y2="490.84" stroke="#111" stroke-width="1.2" />
<text transform="translate(412,502.18) scale(1,1.06)" text-anchor="end" font-style="italic" fill="#1a1a1a" font-size="9.2">GH<tspan dy="-0.3">_</tspan><tspan dy="0.3">A05G1617</tspan></text>
<line x1="417.2" y1="499.23" x2="423.7" y2="499.23" stroke="#111" stroke-width="1.2" />
<text transform="translate(412,510.58) scale(1,1.06)" text-anchor="end" font-style="italic" fill="#1a1a1a" font-size="9.2">GH<tspan dy="-0.3">_</tspan><tspan dy="0.3">A05G1616</tspan></text>
<line x1="417.2" y1="507.63" x2="423.7" y2="507.63" stroke="#111" stroke-width="1.2" />
<text transform="translate(412,518.98) scale(1,1.06)" text-anchor="end" font-style="italic" fill="#1a1a1a" font-size="9.2">GH<tspan dy="-0.3">_</tspan><tspan dy="0.3">A05G1614</tspan></text>
<line x1="417.2" y1="516.03" x2="423.7" y2="516.03" stroke="#111" stroke-width="1.2" />
<text transform="translate(412,527.38) scale(1,1.06)" text-anchor="end" font-style="italic" fill="#1a1a1a" font-size="9.2">GH<tspan dy="-0.3">_</tspan><tspan dy="0.3">A05G1613</tspan></text>
<line x1="417.2" y1="524.43" x2="423.7" y2="524.43" stroke="#111" stroke-width="1.2" />
<text transform="translate(412,535.78) scale(1,1.06)" text-anchor="end" font-style="italic" fill="#1a1a1a" font-size="9.2">GH<tspan dy="-0.3">_</tspan><tspan dy="0.3">A05G1612</tspan></text>
<line x1="417.2" y1="532.83" x2="423.7" y2="532.83" stroke="#111" stroke-width="1.2" />
<text transform="translate(412,544.17) scale(1,1.06)" text-anchor="end" font-style="italic" fill="#1a1a1a" font-size="9.2">GH<tspan dy="-0.3">_</tspan><tspan dy="0.3">A05G1611</tspan></text>
<line x1="417.2" y1="541.22" x2="423.7" y2="541.22" stroke="#111" stroke-width="1.2" />
<text transform="translate(412,552.57) scale(1,1.06)" text-anchor="end" font-style="italic" fill="#1a1a1a" font-size="9.2">GH<tspan dy="-0.3">_</tspan><tspan dy="0.3">A05G1610</tspan></text>
<line x1="417.2" y1="549.62" x2="423.7" y2="549.62" stroke="#111" stroke-width="1.2" />
<text transform="translate(412,560.97) scale(1,1.06)" text-anchor="end" font-style="italic" font-weight="bold" fill="#4F8FCC" font-size="8.95">GH<tspan dy="-0.3">_</tspan><tspan dy="0.3">A05G1609</tspan></text>
<line x1="417.2" y1="558.02" x2="423.7" y2="558.02" stroke="#111" stroke-width="1.2" />
<text transform="translate(412,569.37) scale(1,1.06)" text-anchor="end" font-style="italic" fill="#1a1a1a" font-size="9.2">GH<tspan dy="-0.3">_</tspan><tspan dy="0.3">A05G1608</tspan></text>
<line x1="417.2" y1="566.42" x2="423.7" y2="566.42" stroke="#111" stroke-width="1.2" />
<text transform="translate(412,577.77) scale(1,1.06)" text-anchor="end" font-style="italic" font-weight="bold" fill="#4F8FCC" font-size="8.95">GH<tspan dy="-0.3">_</tspan><tspan dy="0.3">A05G1606</tspan></text>
<line x1="417.2" y1="574.82" x2="423.7" y2="574.82" stroke="#111" stroke-width="1.2" />
<text transform="translate(412,586.16) scale(1,1.06)" text-anchor="end" font-style="italic" fill="#1a1a1a" font-size="9.2">GH<tspan dy="-0.3">_</tspan><tspan dy="0.3">A05G1604</tspan></text>
<line x1="417.2" y1="583.21" x2="423.7" y2="583.21" stroke="#111" stroke-width="1.2" />
<text transform="translate(412,594.56) scale(1,1.06)" text-anchor="end" font-style="italic" font-weight="bold" fill="#4F8FCC" font-size="8.95">GH<tspan dy="-0.3">_</tspan><tspan dy="0.3">A05G1602</tspan></text>
<line x1="417.2" y1="591.61" x2="423.7" y2="591.61" stroke="#111" stroke-width="1.2" />
<text transform="translate(412,602.96) scale(1,1.06)" text-anchor="end" font-style="italic" fill="#1a1a1a" font-size="9.2">GH<tspan dy="-0.3">_</tspan><tspan dy="0.3">A05G1600</tspan></text>
<line x1="417.2" y1="600.01" x2="423.7" y2="600.01" stroke="#111" stroke-width="1.2" />
<text transform="translate(412,611.36) scale(1,1.06)" text-anchor="end" font-style="italic" fill="#1a1a1a" font-size="9.2">GH<tspan dy="-0.3">_</tspan><tspan dy="0.3">A05G1599</tspan></text>
<line x1="417.2" y1="608.41" x2="423.7" y2="608.41" stroke="#111" stroke-width="1.2" />
<text transform="translate(412,619.76) scale(1,1.06)" text-anchor="end" font-style="italic" fill="#1a1a1a" font-size="9.2">GH<tspan dy="-0.3">_</tspan><tspan dy="0.3">A05G1597</tspan></text>
<line x1="417.2" y1="616.81" x2="423.7" y2="616.81" stroke="#111" stroke-width="1.2" />
<text transform="translate(412,628.15) scale(1,1.06)" text-anchor="end" font-style="italic" fill="#1a1a1a" font-size="9.2">GH<tspan dy="-0.3">_</tspan><tspan dy="0.3">A05G1595</tspan></text>
<line x1="417.2" y1="625.2" x2="423.7" y2="625.2" stroke="#111" stroke-width="1.2" />
<text transform="translate(412,636.55) scale(1,1.06)" text-anchor="end" font-style="italic" fill="#1a1a1a" font-size="9.2">GH<tspan dy="-0.3">_</tspan><tspan dy="0.3">A05G1594</tspan></text>
<line x1="417.2" y1="633.6" x2="423.7" y2="633.6" stroke="#111" stroke-width="1.2" />
<text transform="translate(412,644.95) scale(1,1.06)" text-anchor="end" font-style="italic" fill="#1a1a1a" font-size="9.2">GH<tspan dy="-0.3">_</tspan><tspan dy="0.3">A05G1593</tspan></text>
<line x1="417.2" y1="642" x2="423.7" y2="642" stroke="#111" stroke-width="1.2" />
<text transform="translate(412,653.35) scale(1,1.06)" text-anchor="end" font-style="italic" fill="#1a1a1a" font-size="9.2">GH<tspan dy="-0.3">_</tspan><tspan dy="0.3">A05G1591</tspan></text>
<line x1="417.2" y1="650.4" x2="423.7" y2="650.4" stroke="#111" stroke-width="1.2" />
<text transform="translate(412,661.75) scale(1,1.06)" text-anchor="end" font-style="italic" fill="#1a1a1a" font-size="9.2">GH<tspan dy="-0.3">_</tspan><tspan dy="0.3">A05G1590</tspan></text>
<line x1="417.2" y1="658.8" x2="423.7" y2="658.8" stroke="#111" stroke-width="1.2" />
<text transform="translate(412,670.14) scale(1,1.06)" text-anchor="end" font-style="italic" fill="#1a1a1a" font-size="9.2">GH<tspan dy="-0.3">_</tspan><tspan dy="0.3">A05G1589</tspan></text>
<line x1="417.2" y1="667.19" x2="423.7" y2="667.19" stroke="#111" stroke-width="1.2" />
<text transform="translate(412,678.54) scale(1,1.06)" text-anchor="end" font-style="italic" fill="#1a1a1a" font-size="9.2">GH<tspan dy="-0.3">_</tspan><tspan dy="0.3">A05G1585</tspan></text>
<line x1="417.2" y1="675.59" x2="423.7" y2="675.59" stroke="#111" stroke-width="1.2" />
<text transform="translate(412,686.94) scale(1,1.06)" text-anchor="end" font-style="italic" fill="#1a1a1a" font-size="9.2">GH<tspan dy="-0.3">_</tspan><tspan dy="0.3">A05G1584</tspan></text>
<line x1="417.2" y1="683.99" x2="423.7" y2="683.99" stroke="#111" stroke-width="1.2" />
<text transform="translate(412,695.34) scale(1,1.06)" text-anchor="end" font-style="italic" fill="#1a1a1a" font-size="9.2">GH<tspan dy="-0.3">_</tspan><tspan dy="0.3">A05G1577</tspan></text>
<line x1="417.2" y1="692.39" x2="423.7" y2="692.39" stroke="#111" stroke-width="1.2" />
<text transform="translate(412,703.74) scale(1,1.06)" text-anchor="end" font-style="italic" fill="#1a1a1a" font-size="9.2">GH<tspan dy="-0.3">_</tspan><tspan dy="0.3">A05G1576</tspan></text>
<line x1="417.2" y1="700.79" x2="423.7" y2="700.79" stroke="#111" stroke-width="1.2" />
<text transform="translate(412,712.13) scale(1,1.06)" text-anchor="end" font-style="italic" fill="#1a1a1a" font-size="9.2">GH<tspan dy="-0.3">_</tspan><tspan dy="0.3">A05G1573</tspan></text>
<line x1="417.2" y1="709.18" x2="423.7" y2="709.18" stroke="#111" stroke-width="1.2" />
<text transform="translate(412,720.53) scale(1,1.06)" text-anchor="end" font-style="italic" fill="#1a1a1a" font-size="9.2">GH<tspan dy="-0.3">_</tspan><tspan dy="0.3">A05G1572</tspan></text>
<line x1="417.2" y1="717.58" x2="423.7" y2="717.58" stroke="#111" stroke-width="1.2" />
<text transform="translate(412,728.93) scale(1,1.06)" text-anchor="end" font-style="italic" fill="#1a1a1a" font-size="9.2">GH<tspan dy="-0.3">_</tspan><tspan dy="0.3">A05G1567</tspan></text>
<line x1="417.2" y1="725.98" x2="423.7" y2="725.98" stroke="#111" stroke-width="1.2" />
<text transform="translate(412,737.33) scale(1,1.06)" text-anchor="end" font-style="italic" fill="#1a1a1a" font-size="9.2">GH<tspan dy="-0.3">_</tspan><tspan dy="0.3">A05G1566</tspan></text>
<line x1="417.2" y1="734.38" x2="423.7" y2="734.38" stroke="#111" stroke-width="1.2" />
<text transform="translate(412,745.73) scale(1,1.06)" text-anchor="end" font-style="italic" fill="#1a1a1a" font-size="9.2">GH<tspan dy="-0.3">_</tspan><tspan dy="0.3">A05G1565</tspan></text>
<line x1="417.2" y1="742.78" x2="423.7" y2="742.78" stroke="#111" stroke-width="1.2" />
<text transform="translate(412,754.12) scale(1,1.06)" text-anchor="end" font-style="italic" fill="#1a1a1a" font-size="9.2">GH<tspan dy="-0.3">_</tspan><tspan dy="0.3">A05G1564</tspan></text>
<line x1="417.2" y1="751.17" x2="423.7" y2="751.17" stroke="#111" stroke-width="1.2" />
<line x1="420.3" y1="7.95" x2="423.7" y2="7.95" stroke="#111" stroke-width="1.2" />
<line x1="420.3" y1="16.35" x2="423.7" y2="16.35" stroke="#111" stroke-width="1.2" />
<line x1="420.3" y1="24.75" x2="423.7" y2="24.75" stroke="#111" stroke-width="1.2" />
<line x1="420.3" y1="33.14" x2="423.7" y2="33.14" stroke="#111" stroke-width="1.2" />
<line x1="420.3" y1="41.54" x2="423.7" y2="41.54" stroke="#111" stroke-width="1.2" />
<line x1="420.3" y1="49.94" x2="423.7" y2="49.94" stroke="#111" stroke-width="1.2" />
<line x1="420.3" y1="58.34" x2="423.7" y2="58.34" stroke="#111" stroke-width="1.2" />
<line x1="420.3" y1="66.74" x2="423.7" y2="66.74" stroke="#111" stroke-width="1.2" />
<line x1="420.3" y1="75.13" x2="423.7" y2="75.13" stroke="#111" stroke-width="1.2" />
<line x1="420.3" y1="83.53" x2="423.7" y2="83.53" stroke="#111" stroke-width="1.2" />
<line x1="420.3" y1="91.93" x2="423.7" y2="91.93" stroke="#111" stroke-width="1.2" />
<line x1="420.3" y1="100.33" x2="423.7" y2="100.33" stroke="#111" stroke-width="1.2" />
<line x1="420.3" y1="108.73" x2="423.7" y2="108.73" stroke="#111" stroke-width="1.2" />
<line x1="420.3" y1="117.12" x2="423.7" y2="117.12" stroke="#111" stroke-width="1.2" />
<line x1="420.3" y1="125.52" x2="423.7" y2="125.52" stroke="#111" stroke-width="1.2" />
<line x1="420.3" y1="133.92" x2="423.7" y2="133.92" stroke="#111" stroke-width="1.2" />
<line x1="420.3" y1="142.32" x2="423.7" y2="142.32" stroke="#111" stroke-width="1.2" />
<line x1="420.3" y1="150.72" x2="423.7" y2="150.72" stroke="#111" stroke-width="1.2" />
<line x1="420.3" y1="159.11" x2="423.7" y2="159.11" stroke="#111" stroke-width="1.2" />
<line x1="420.3" y1="167.51" x2="423.7" y2="167.51" stroke="#111" stroke-width="1.2" />
<line x1="420.3" y1="175.91" x2="423.7" y2="175.91" stroke="#111" stroke-width="1.2" />
<line x1="420.3" y1="184.31" x2="423.7" y2="184.31" stroke="#111" stroke-width="1.2" />
<line x1="420.3" y1="192.71" x2="423.7" y2="192.71" stroke="#111" stroke-width="1.2" />
<line x1="420.3" y1="201.1" x2="423.7" y2="201.1" stroke="#111" stroke-width="1.2" />
<line x1="420.3" y1="209.5" x2="423.7" y2="209.5" stroke="#111" stroke-width="1.2" />
<line x1="420.3" y1="217.9" x2="423.7" y2="217.9" stroke="#111" stroke-width="1.2" />
<line x1="420.3" y1="226.3" x2="423.7" y2="226.3" stroke="#111" stroke-width="1.2" />
<line x1="420.3" y1="234.7" x2="423.7" y2="234.7" stroke="#111" stroke-width="1.2" />
<line x1="420.3" y1="243.09" x2="423.7" y2="243.09" stroke="#111" stroke-width="1.2" />
<line x1="420.3" y1="251.49" x2="423.7" y2="251.49" stroke="#111" stroke-width="1.2" />
<line x1="420.3" y1="259.89" x2="423.7" y2="259.89" stroke="#111" stroke-width="1.2" />
<line x1="420.3" y1="268.29" x2="423.7" y2="268.29" stroke="#111" stroke-width="1.2" />
<line x1="420.3" y1="276.69" x2="423.7" y2="276.69" stroke="#111" stroke-width="1.2" />
<line x1="420.3" y1="285.09" x2="423.7" y2="285.09" stroke="#111" stroke-width="1.2" />
<line x1="420.3" y1="293.48" x2="423.7" y2="293.48" stroke="#111" stroke-width="1.2" />
<line x1="420.3" y1="301.88" x2="423.7" y2="301.88" stroke="#111" stroke-width="1.2" />
<line x1="420.3" y1="310.28" x2="423.7" y2="310.28" stroke="#111" stroke-width="1.2" />
<line x1="420.3" y1="318.68" x2="423.7" y2="318.68" stroke="#111" stroke-width="1.2" />
<line x1="420.3" y1="327.07" x2="423.7" y2="327.07" stroke="#111" stroke-width="1.2" />
<line x1="420.3" y1="335.47" x2="423.7" y2="335.47" stroke="#111" stroke-width="1.2" />
<line x1="420.3" y1="343.87" x2="423.7" y2="343.87" stroke="#111" stroke-width="1.2" />
<line x1="420.3" y1="352.27" x2="423.7" y2="352.27" stroke="#111" stroke-width="1.2" />
<line x1="420.3" y1="360.67" x2="423.7" y2="360.67" stroke="#111" stroke-width="1.2" />
<line x1="420.3" y1="369.06" x2="423.7" y2="369.06" stroke="#111" stroke-width="1.2" />
<line x1="420.3" y1="377.46" x2="423.7" y2="377.46" stroke="#111" stroke-width="1.2" />
<line x1="420.3" y1="385.86" x2="423.7" y2="385.86" stroke="#111" stroke-width="1.2" />
<line x1="420.3" y1="394.26" x2="423.7" y2="394.26" stroke="#111" stroke-width="1.2" />
<line x1="420.3" y1="402.66" x2="423.7" y2="402.66" stroke="#111" stroke-width="1.2" />
<line x1="420.3" y1="411.06" x2="423.7" y2="411.06" stroke="#111" stroke-width="1.2" />
<line x1="420.3" y1="419.45" x2="423.7" y2="419.45" stroke="#111" stroke-width="1.2" />
<line x1="420.3" y1="427.85" x2="423.7" y2="427.85" stroke="#111" stroke-width="1.2" />
<line x1="420.3" y1="436.25" x2="423.7" y2="436.25" stroke="#111" stroke-width="1.2" />
<line x1="420.3" y1="444.65" x2="423.7" y2="444.65" stroke="#111" stroke-width="1.2" />
<line x1="420.3" y1="453.05" x2="423.7" y2="453.05" stroke="#111" stroke-width="1.2" />
<line x1="420.3" y1="461.44" x2="423.7" y2="461.44" stroke="#111" stroke-width="1.2" />
<line x1="420.3" y1="469.84" x2="423.7" y2="469.84" stroke="#111" stroke-width="1.2" />
<line x1="420.3" y1="478.24" x2="423.7" y2="478.24" stroke="#111" stroke-width="1.2" />
<line x1="420.3" y1="486.64" x2="423.7" y2="486.64" stroke="#111" stroke-width="1.2" />
<line x1="420.3" y1="495.04" x2="423.7" y2="495.04" stroke="#111" stroke-width="1.2" />
<line x1="420.3" y1="503.43" x2="423.7" y2="503.43" stroke="#111" stroke-width="1.2" />
<line x1="420.3" y1="511.83" x2="423.7" y2="511.83" stroke="#111" stroke-width="1.2" />
<line x1="420.3" y1="520.23" x2="423.7" y2="520.23" stroke="#111" stroke-width="1.2" />
<line x1="420.3" y1="528.63" x2="423.7" y2="528.63" stroke="#111" stroke-width="1.2" />
<line x1="420.3" y1="537.02" x2="423.7" y2="537.02" stroke="#111" stroke-width="1.2" />
<line x1="420.3" y1="545.42" x2="423.7" y2="545.42" stroke="#111" stroke-width="1.2" />
<line x1="420.3" y1="553.82" x2="423.7" y2="553.82" stroke="#111" stroke-width="1.2" />
<line x1="420.3" y1="562.22" x2="423.7" y2="562.22" stroke="#111" stroke-width="1.2" />
<line x1="420.3" y1="570.62" x2="423.7" y2="570.62" stroke="#111" stroke-width="1.2" />
<line x1="420.3" y1="579.01" x2="423.7" y2="579.01" stroke="#111" stroke-width="1.2" />
<line x1="420.3" y1="587.41" x2="423.7" y2="587.41" stroke="#111" stroke-width="1.2" />
<line x1="420.3" y1="595.81" x2="423.7" y2="595.81" stroke="#111" stroke-width="1.2" />
<line x1="420.3" y1="604.21" x2="423.7" y2="604.21" stroke="#111" stroke-width="1.2" />
<line x1="420.3" y1="612.61" x2="423.7" y2="612.61" stroke="#111" stroke-width="1.2" />
<line x1="420.3" y1="621" x2="423.7" y2="621" stroke="#111" stroke-width="1.2" />
<line x1="420.3" y1="629.4" x2="423.7" y2="629.4" stroke="#111" stroke-width="1.2" />
<line x1="420.3" y1="637.8" x2="423.7" y2="637.8" stroke="#111" stroke-width="1.2" />
<line x1="420.3" y1="646.2" x2="423.7" y2="646.2" stroke="#111" stroke-width="1.2" />
<line x1="420.3" y1="654.6" x2="423.7" y2="654.6" stroke="#111" stroke-width="1.2" />
<line x1="420.3" y1="663" x2="423.7" y2="663" stroke="#111" stroke-width="1.2" />
<line x1="420.3" y1="671.39" x2="423.7" y2="671.39" stroke="#111" stroke-width="1.2" />
<line x1="420.3" y1="679.79" x2="423.7" y2="679.79" stroke="#111" stroke-width="1.2" />
<line x1="420.3" y1="688.19" x2="423.7" y2="688.19" stroke="#111" stroke-width="1.2" />
<line x1="420.3" y1="696.59" x2="423.7" y2="696.59" stroke="#111" stroke-width="1.2" />
<line x1="420.3" y1="704.99" x2="423.7" y2="704.99" stroke="#111" stroke-width="1.2" />
<line x1="420.3" y1="713.38" x2="423.7" y2="713.38" stroke="#111" stroke-width="1.2" />
<line x1="420.3" y1="721.78" x2="423.7" y2="721.78" stroke="#111" stroke-width="1.2" />
<line x1="420.3" y1="730.18" x2="423.7" y2="730.18" stroke="#111" stroke-width="1.2" />
<line x1="420.3" y1="738.58" x2="423.7" y2="738.58" stroke="#111" stroke-width="1.2" />
<line x1="420.3" y1="746.98" x2="423.7" y2="746.98" stroke="#111" stroke-width="1.2" />
<line x1="420.3" y1="755.37" x2="423.7" y2="755.37" stroke="#111" stroke-width="1.2" />
<line x1="423.7" y1="7.95" x2="423.7" y2="756.05" stroke="#111" stroke-width="1.3" />
<line x1="423.05" y1="755.4" x2="678.8" y2="755.4" stroke="#111" stroke-width="1.3" />
<line x1="423.7" y1="755.4" x2="423.7" y2="761.6" stroke="#111" stroke-width="1.2" />
<line x1="433.88" y1="755.4" x2="433.88" y2="758.8" stroke="#111" stroke-width="1.2" />
<line x1="444.07" y1="755.4" x2="444.07" y2="758.8" stroke="#111" stroke-width="1.2" />
<line x1="454.25" y1="755.4" x2="454.25" y2="758.8" stroke="#111" stroke-width="1.2" />
<line x1="464.44" y1="755.4" x2="464.44" y2="758.8" stroke="#111" stroke-width="1.2" />
<line x1="474.62" y1="755.4" x2="474.62" y2="761.6" stroke="#111" stroke-width="1.2" />
<line x1="484.8" y1="755.4" x2="484.8" y2="758.8" stroke="#111" stroke-width="1.2" />
<line x1="494.99" y1="755.4" x2="494.99" y2="758.8" stroke="#111" stroke-width="1.2" />
<line x1="505.17" y1="755.4" x2="505.17" y2="758.8" stroke="#111" stroke-width="1.2" />
<line x1="515.35" y1="755.4" x2="515.35" y2="758.8" stroke="#111" stroke-width="1.2" />
<line x1="525.54" y1="755.4" x2="525.54" y2="761.6" stroke="#111" stroke-width="1.2" />
<line x1="535.72" y1="755.4" x2="535.72" y2="758.8" stroke="#111" stroke-width="1.2" />
<line x1="545.91" y1="755.4" x2="545.91" y2="758.8" stroke="#111" stroke-width="1.2" />
<line x1="556.09" y1="755.4" x2="556.09" y2="758.8" stroke="#111" stroke-width="1.2" />
<line x1="566.27" y1="755.4" x2="566.27" y2="758.8" stroke="#111" stroke-width="1.2" />
<line x1="576.46" y1="755.4" x2="576.46" y2="761.6" stroke="#111" stroke-width="1.2" />
<line x1="586.64" y1="755.4" x2="586.64" y2="758.8" stroke="#111" stroke-width="1.2" />
<line x1="596.82" y1="755.4" x2="596.82" y2="758.8" stroke="#111" stroke-width="1.2" />
<line x1="607.01" y1="755.4" x2="607.01" y2="758.8" stroke="#111" stroke-width="1.2" />
<line x1="617.19" y1="755.4" x2="617.19" y2="758.8" stroke="#111" stroke-width="1.2" />
<line x1="627.38" y1="755.4" x2="627.38" y2="761.6" stroke="#111" stroke-width="1.2" />
<line x1="637.56" y1="755.4" x2="637.56" y2="758.8" stroke="#111" stroke-width="1.2" />
<line x1="647.74" y1="755.4" x2="647.74" y2="758.8" stroke="#111" stroke-width="1.2" />
<line x1="657.93" y1="755.4" x2="657.93" y2="758.8" stroke="#111" stroke-width="1.2" />
<line x1="668.11" y1="755.4" x2="668.11" y2="758.8" stroke="#111" stroke-width="1.2" />
<line x1="678.29" y1="755.4" x2="678.29" y2="761.6" stroke="#111" stroke-width="1.2" />
<text x="425.1" y="774.6" font-size="14" text-anchor="middle">0</text>
<text x="476.02" y="774.6" font-size="14" text-anchor="middle">3</text>
<text x="526.94" y="774.6" font-size="14" text-anchor="middle">6</text>
<text x="577.86" y="774.6" font-size="14" text-anchor="middle">9</text>
<text x="623.78" y="774.6" font-size="14" letter-spacing="-1.6">12</text>
<text x="674.69" y="774.6" font-size="14" letter-spacing="-1.6">15</text>
<line x1="474.62" y1="7.95" x2="474.62" y2="12.26" stroke="#5E97CE" stroke-width="1" />
<line x1="474.62" y1="22.1" x2="474.62" y2="31.95" stroke="#5E97CE" stroke-width="1" />
<line x1="474.62" y1="41.79" x2="474.62" y2="51.64" stroke="#5E97CE" stroke-width="1" />
<line x1="474.62" y1="61.48" x2="474.62" y2="71.33" stroke="#5E97CE" stroke-width="1" />
<line x1="474.62" y1="81.17" x2="474.62" y2="91.02" stroke="#5E97CE" stroke-width="1" />
<line x1="474.62" y1="100.86" x2="474.62" y2="110.71" stroke="#5E97CE" stroke-width="1" />
<line x1="474.62" y1="120.55" x2="474.62" y2="130.4" stroke="#5E97CE" stroke-width="1" />
<line x1="474.62" y1="140.24" x2="474.62" y2="150.09" stroke="#5E97CE" stroke-width="1" />
<line x1="474.62" y1="159.93" x2="474.62" y2="169.78" stroke="#5E97CE" stroke-width="1" />
<line x1="474.62" y1="179.62" x2="474.62" y2="189.47" stroke="#5E97CE" stroke-width="1" />
<line x1="474.62" y1="199.31" x2="474.62" y2="209.16" stroke="#5E97CE" stroke-width="1" />
<line x1="474.62" y1="219" x2="474.62" y2="228.85" stroke="#5E97CE" stroke-width="1" />
<line x1="474.62" y1="238.69" x2="474.62" y2="248.54" stroke="#5E97CE" stroke-width="1" />
<line x1="474.62" y1="258.38" x2="474.62" y2="268.23" stroke="#5E97CE" stroke-width="1" />
<line x1="474.62" y1="278.07" x2="474.62" y2="287.92" stroke="#5E97CE" stroke-width="1" />
<line x1="474.62" y1="297.76" x2="474.62" y2="307.61" stroke="#5E97CE" stroke-width="1" />
<line x1="474.62" y1="317.45" x2="474.62" y2="327.3" stroke="#5E97CE" stroke-width="1" />
<line x1="474.62" y1="337.14" x2="474.62" y2="346.99" stroke="#5E97CE" stroke-width="1" />
<line x1="474.62" y1="356.83" x2="474.62" y2="366.68" stroke="#5E97CE" stroke-width="1" />
<line x1="474.62" y1="376.52" x2="474.62" y2="386.37" stroke="#5E97CE" stroke-width="1" />
<line x1="474.62" y1="396.21" x2="474.62" y2="406.06" stroke="#5E97CE" stroke-width="1" />
<line x1="474.62" y1="415.9" x2="474.62" y2="425.75" stroke="#5E97CE" stroke-width="1" />
<line x1="474.62" y1="435.59" x2="474.62" y2="445.44" stroke="#5E97CE" stroke-width="1" />
<line x1="474.62" y1="455.28" x2="474.62" y2="465.13" stroke="#5E97CE" stroke-width="1" />
<line x1="474.62" y1="474.97" x2="474.62" y2="484.82" stroke="#5E97CE" stroke-width="1" />
<line x1="474.62" y1="494.66" x2="474.62" y2="504.51" stroke="#5E97CE" stroke-width="1" />
<line x1="474.62" y1="514.35" x2="474.62" y2="524.2" stroke="#5E97CE" stroke-width="1" />
<line x1="474.62" y1="534.04" x2="474.62" y2="543.89" stroke="#5E97CE" stroke-width="1" />
<line x1="474.62" y1="553.73" x2="474.62" y2="563.58" stroke="#5E97CE" stroke-width="1" />
<line x1="474.62" y1="573.42" x2="474.62" y2="583.27" stroke="#5E97CE" stroke-width="1" />
<line x1="474.62" y1="593.11" x2="474.62" y2="602.96" stroke="#5E97CE" stroke-width="1" />
<line x1="474.62" y1="612.8" x2="474.62" y2="622.65" stroke="#5E97CE" stroke-width="1" />
<line x1="474.62" y1="632.49" x2="474.62" y2="642.34" stroke="#5E97CE" stroke-width="1" />
<line x1="474.62" y1="652.18" x2="474.62" y2="662.03" stroke="#5E97CE" stroke-width="1" />
<line x1="474.62" y1="671.87" x2="474.62" y2="681.72" stroke="#5E97CE" stroke-width="1" />
<line x1="474.62" y1="691.56" x2="474.62" y2="701.41" stroke="#5E97CE" stroke-width="1" />
<line x1="474.62" y1="711.25" x2="474.62" y2="721.1" stroke="#5E97CE" stroke-width="1" />
<line x1="474.62" y1="730.94" x2="474.62" y2="740.79" stroke="#5E97CE" stroke-width="1" />
<line x1="474.62" y1="750.63" x2="474.62" y2="755.4" stroke="#5E97CE" stroke-width="1" />
</g>
</svg>
</body></html>
